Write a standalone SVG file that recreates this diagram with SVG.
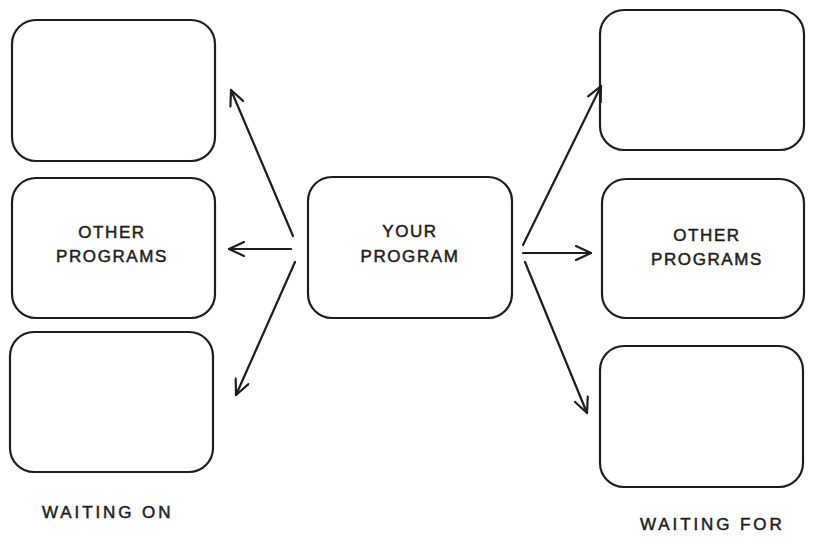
<svg xmlns="http://www.w3.org/2000/svg" width="815" height="547" viewBox="0 0 815 547">
  <style>
    .box { fill: #ffffff; stroke: #1e1e1e; stroke-width: 2.2; stroke-linejoin: round; }
    .edge { fill: none; stroke: #1e1e1e; stroke-width: 2.2; stroke-linecap: round; }
    .label { font-family: "Liberation Sans", Arial, sans-serif; font-size: 17px; fill: #1e1e1e; stroke: #1e1e1e; stroke-width: 0.5; text-anchor: middle; letter-spacing: 1.6px; }
    .caption { font-family: "Liberation Sans", Arial, sans-serif; font-size: 17px; fill: #1e1e1e; stroke: #1e1e1e; stroke-width: 0.5; letter-spacing: 2.9px; }
  </style>
  <defs>
    <marker id="head" viewBox="-16 -8 18 16" markerWidth="18" markerHeight="16" refX="0" refY="0" orient="auto" markerUnits="userSpaceOnUse">
      <path d="M -15 -7 L 0 0 L -15 7" fill="none" stroke="#1e1e1e" stroke-width="2.2" stroke-linecap="round" stroke-linejoin="round"/>
    </marker>
  </defs>
  <rect width="815" height="547" fill="#ffffff"/>

  <!-- programs this one waits on -->
  <g id="on-top"><rect class="box" x="12" y="20" width="203" height="141" rx="24"/></g>
  <g id="on-middle">
    <rect class="box" x="12" y="178" width="203" height="140" rx="24"/>
    <text class="label" x="112" y="238">OTHER</text>
    <text class="label" x="112" y="262">PROGRAMS</text>
  </g>
  <g id="on-bottom"><rect class="box" x="10" y="332" width="203" height="140" rx="24"/></g>

  <!-- the program itself -->
  <g id="your-program">
    <rect class="box" x="308" y="177" width="204" height="141" rx="24"/>
    <text class="label" x="410" y="237">YOUR</text>
    <text class="label" x="410" y="262">PROGRAM</text>
  </g>

  <!-- programs waiting for this one -->
  <g id="for-top"><rect class="box" x="600" y="10" width="204" height="140" rx="24"/></g>
  <g id="for-middle">
    <rect class="box" x="602" y="179" width="202" height="139" rx="24"/>
    <text class="label" x="707" y="241">OTHER</text>
    <text class="label" x="707" y="265">PROGRAMS</text>
  </g>
  <g id="for-bottom"><rect class="box" x="600" y="346" width="203" height="141" rx="24"/></g>

  <g id="captions">
    <text class="caption" x="42" y="518">WAITING ON</text>
    <text class="caption" x="640" y="530">WAITING FOR</text>
  </g>

  <g id="connectors">
    <path class="edge" d="M 293 236 L 231 90" marker-end="url(#head)"/>
    <path class="edge" d="M 291 249 L 229 249" marker-end="url(#head)"/>
    <path class="edge" d="M 295 262 L 236 395" marker-end="url(#head)"/>
    <path class="edge" d="M 523 245 L 601 86" marker-end="url(#head)"/>
    <path class="edge" d="M 523 253 L 591 253" marker-end="url(#head)"/>
    <path class="edge" d="M 525 262 L 587 413" marker-end="url(#head)"/>
  </g>
</svg>
